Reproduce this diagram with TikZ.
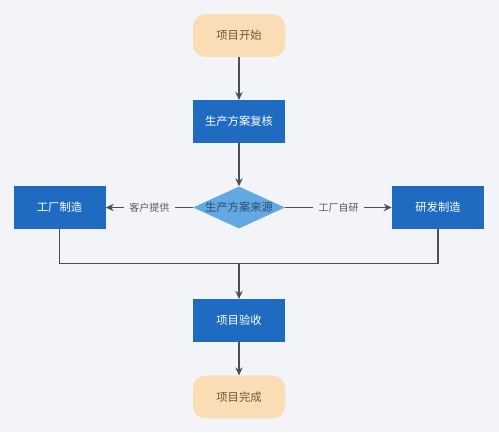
\documentclass[tikz,border=0pt]{standalone}
\usepackage{fontspec}
\setmainfont{Noto Sans CJK SC}
\usetikzlibrary{arrows.meta,shapes.geometric}

\definecolor{bgcol}{HTML}{F2F4F7}
\definecolor{boxblue}{HTML}{1F6BC2}
\definecolor{diablue}{HTML}{62A8E2}
\definecolor{diatext}{HTML}{2E4C6E}
\definecolor{peach}{HTML}{FADDB4}
\definecolor{peachtext}{HTML}{6B5640}
\definecolor{linecol}{HTML}{4A4F56}
\definecolor{labtext}{HTML}{555A60}

\tikzset{
  stepbox/.style={rectangle, fill=boxblue, text=white, minimum width=69pt, minimum height=32pt, inner sep=0pt, font=\fontsize{8.5}{10}\selectfont},
  endbox/.style={rectangle, rounded corners=9pt, fill=peach, text=peachtext, minimum width=69pt, minimum height=32pt, inner sep=0pt, font=\fontsize{8.5}{10}\selectfont},
  choice/.style={diamond, fill=diablue, text=diatext, minimum width=69pt, minimum height=31.5pt, aspect=2.2, inner sep=0pt, font=\fontsize{8.5}{10}\selectfont},
  flow/.style={draw=linecol, line width=0.9pt, -{Stealth[length=6pt,width=5.5pt]}},
  joint/.style={draw=linecol, line width=0.9pt},
  edgelab/.style={fill=bgcol, text=labtext, inner xsep=4pt, font=\fontsize{7.5}{9}\selectfont}
}

\begin{document}
\begin{tikzpicture}[x=0.75pt, y=-0.75pt]
	\fill[bgcol] (0,0) rectangle (499,432);
	\useasboundingbox (0,0) rectangle (499,432);
	\node[endbox] (start) at (239,35.5) {项目开始};
	\node[stepbox] (review) at (239,121.5) {生产方案复核};
	\node[choice] (source) at (239,207.5) {生产方案来源};
	\node[stepbox] (factory) at (59.5,207.5) {工厂制造};
	\node[stepbox] (rnd) at (438,207.5) {研发制造};
	\node[stepbox] (accept) at (239,320.5) {项目验收};
	\node[endbox] (finish) at (239,397) {项目完成};
	\coordinate (merge) at (239,263.5);
	\draw[flow] (start) -- (review);
	\draw[flow] (review) -- (source);
	\draw[flow] (source) -- node[edgelab] {客户提供} (factory);
	\draw[flow] (source) -- node[edgelab] {工厂自研} (rnd);
	\draw[joint] (factory.south) |- (merge) -| (rnd.south);
	\draw[flow] (merge) -- (accept);
	\draw[flow] (accept) -- (finish);
\end{tikzpicture}
\end{document}
